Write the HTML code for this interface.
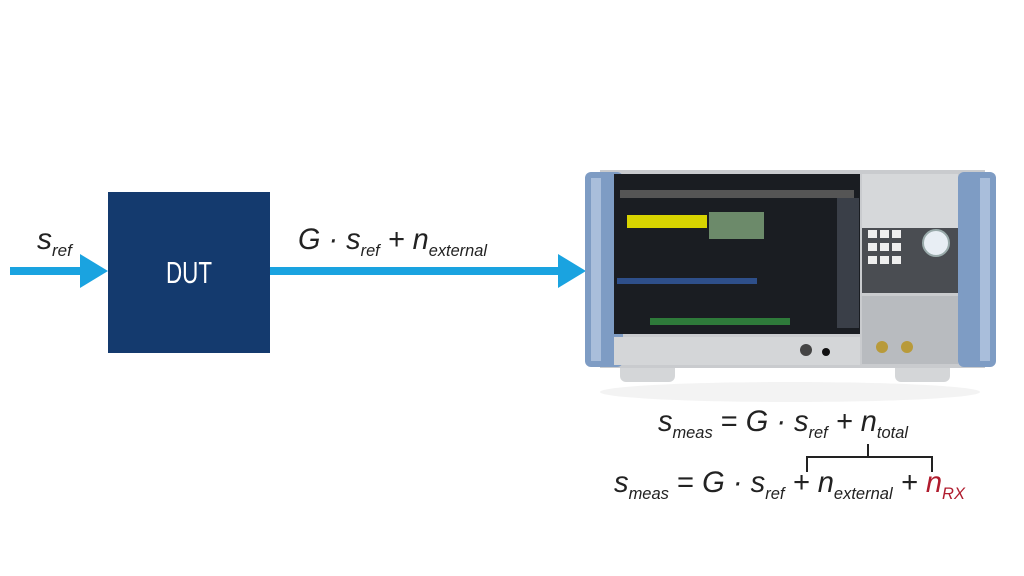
<!DOCTYPE html>
<html><head><meta charset="utf-8"><style>
html,body{margin:0;padding:0;background:#fff;width:1024px;height:576px;overflow:hidden}
svg{display:block}
text{font-family:"Liberation Sans Narrow","Liberation Sans",sans-serif;font-style:italic;fill:#222}
</style></head><body>
<svg width="1024" height="576" viewBox="0 0 1024 576">
<rect x="10" y="267" width="72" height="8" fill="#1aa3e0"/>
<polygon points="80,254 108,271 80,288" fill="#1aa3e0"/>
<rect x="268" y="267" width="294" height="8" fill="#1aa3e0"/>
<polygon points="558,254 586,271 558,288" fill="#1aa3e0"/>
<rect x="108" y="192" width="162" height="161" fill="#143a6e"/>
<text x="189" y="283" text-anchor="middle" textLength="46" lengthAdjust="spacingAndGlyphs" style="font-style:normal;fill:#fff;font-size:31px">DUT</text>
<text x="37" y="249" font-size="30">s<tspan font-size="17" dy="7">ref</tspan></text>
<text x="298" y="249" font-size="30" textLength="189" lengthAdjust="spacingAndGlyphs">G · s<tspan font-size="17" dy="7">ref</tspan><tspan dy="-7"> + n</tspan><tspan font-size="17" dy="7">external</tspan></text>
<ellipse cx="790" cy="392" rx="190" ry="10" fill="#f3f3f3"/>
<rect x="620" y="362" width="55" height="20" rx="6" fill="#d4d6d8"/>
<rect x="895" y="362" width="55" height="20" rx="6" fill="#d4d6d8"/>
<rect x="600" y="170" width="385" height="198" fill="#c9cbce"/>
<rect x="585" y="172" width="38" height="195" rx="6" fill="#7e9cc4"/>
<rect x="958" y="172" width="38" height="195" rx="6" fill="#7e9cc4"/>
<rect x="591" y="178" width="10" height="183" fill="#a9bedb"/>
<rect x="980" y="178" width="10" height="183" fill="#a9bedb"/>
<rect x="614" y="174" width="246" height="160" fill="#1a1d22"/>
<rect x="620" y="190" width="234" height="8" fill="#555"/>
<rect x="627" y="215" width="80" height="13" fill="#d8d400"/>
<rect x="709" y="212" width="55" height="27" fill="#6c8a6a"/>
<rect x="617" y="278" width="140" height="6" fill="#2e4f8a"/>
<rect x="650" y="318" width="140" height="7" fill="#2e7a3a"/>
<rect x="837" y="198" width="22" height="130" fill="#3a3f48"/>
<rect x="862" y="174" width="96" height="54" fill="#d6d8da"/>
<rect x="862" y="228" width="96" height="65" fill="#4a4d52"/>
<circle cx="936" cy="243" r="13" fill="#e8eef4" stroke="#9aa" stroke-width="2"/>
<g fill="#eee"><rect x="868" y="230" width="9" height="8"/><rect x="880" y="230" width="9" height="8"/><rect x="892" y="230" width="9" height="8"/>
<rect x="868" y="243" width="9" height="8"/><rect x="880" y="243" width="9" height="8"/><rect x="892" y="243" width="9" height="8"/>
<rect x="868" y="256" width="9" height="8"/><rect x="880" y="256" width="9" height="8"/><rect x="892" y="256" width="9" height="8"/></g>
<rect x="862" y="296" width="96" height="68" fill="#b8bbbf"/>
<circle cx="882" cy="347" r="6" fill="#b89a3a"/><circle cx="907" cy="347" r="6" fill="#b89a3a"/>
<rect x="614" y="337" width="246" height="28" fill="#d4d6d8"/>
<circle cx="806" cy="350" r="6" fill="#444"/><circle cx="826" cy="352" r="4" fill="#111"/>
<text x="658" y="431" font-size="30" textLength="250" lengthAdjust="spacingAndGlyphs">s<tspan font-size="17" dy="7">meas</tspan><tspan dy="-7" style="font-style:normal"> = </tspan><tspan>G · s</tspan><tspan font-size="17" dy="7">ref</tspan><tspan dy="-7"> + n</tspan><tspan font-size="17" dy="7">total</tspan></text>
<text x="614" y="492" font-size="30" textLength="351" lengthAdjust="spacingAndGlyphs">s<tspan font-size="17" dy="7">meas</tspan><tspan dy="-7" style="font-style:normal"> = </tspan><tspan>G · s</tspan><tspan font-size="17" dy="7">ref</tspan><tspan dy="-7"> + n</tspan><tspan font-size="17" dy="7">external</tspan><tspan dy="-7"> + </tspan><tspan fill="#b01c2e">n</tspan><tspan fill="#b01c2e" font-size="17" dy="7">RX</tspan></text>
<path d="M868 444 V457 M807 472 V457 H932 V472" stroke="#222" stroke-width="2" fill="none"/>
</svg>
</body></html>
